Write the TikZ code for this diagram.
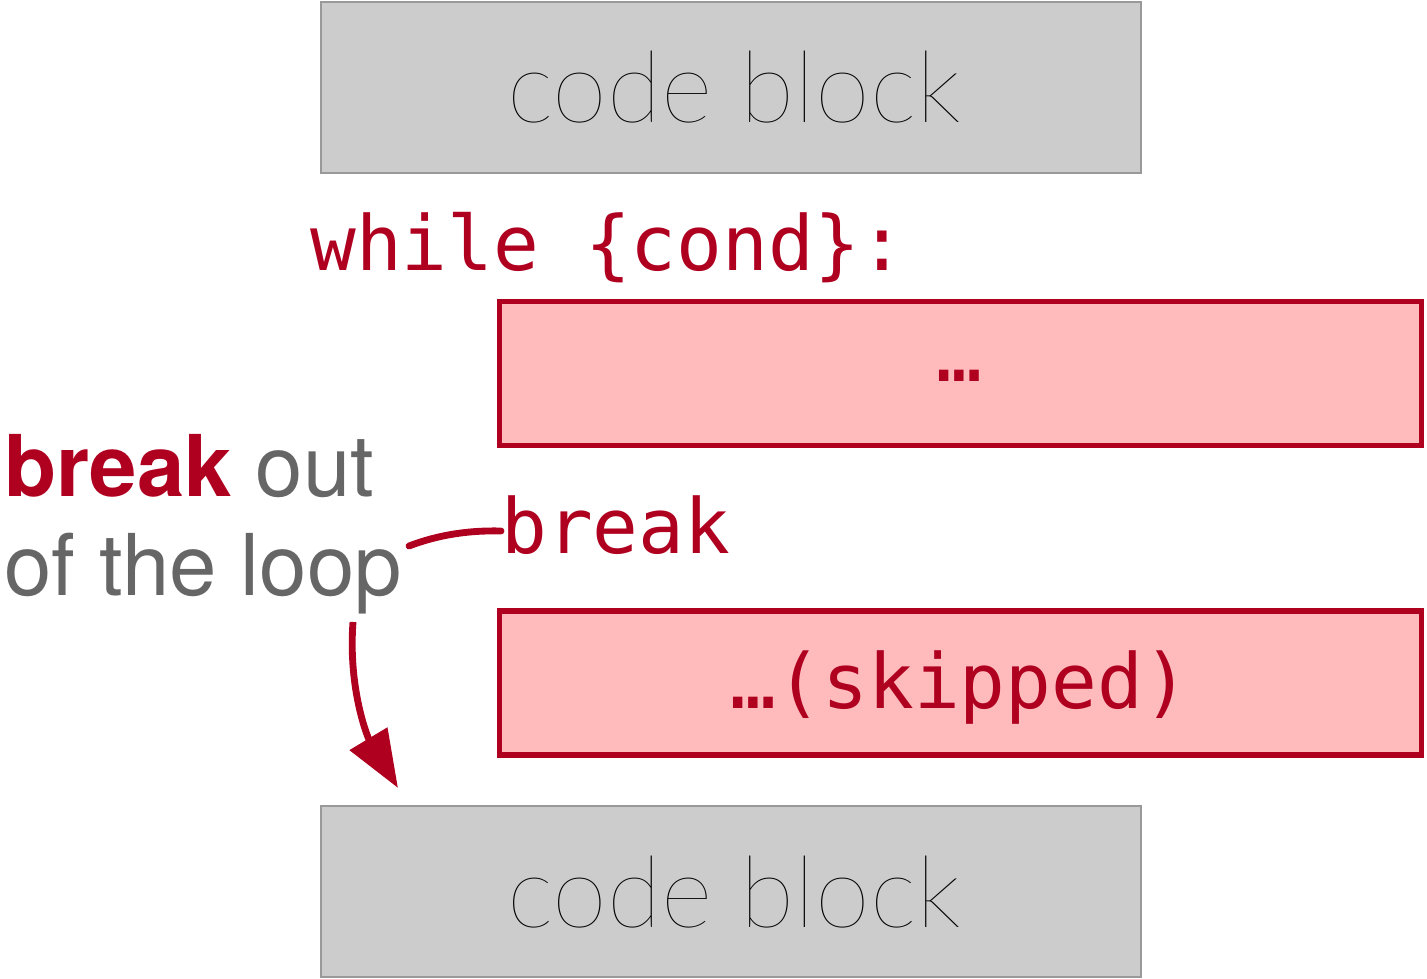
\documentclass[tikz,border=0pt]{standalone}
\usepackage{fontspec}
\setmainfont{TeX Gyre Heros}
\newfontfamily\monofont{DejaVu Sans Mono}
\newfontfamily\thinfont{Lato Hairline}
\usetikzlibrary{arrows.meta}
\definecolor{bred}{RGB}{176,0,32}
\definecolor{pinkfill}{RGB}{255,187,188}
\definecolor{grayfill}{RGB}{204,204,204}
\definecolor{grayline}{RGB}{153,153,153}
\definecolor{graytext}{RGB}{102,102,102}
\tikzset{
  graybox/.style={draw=grayline, line width=0.85pt, fill=grayfill, minimum width=16.4cm, minimum height=3.42cm, inner sep=0pt},
  redbox/.style={draw=bred, line width=3.1pt, fill=pinkfill, minimum width=18.44cm, minimum height=2.88cm, inner sep=0pt},
  cbtext/.style={inner sep=0pt, font=\thinfont\fontsize{56.5}{62}\selectfont, text=black},
  codetext/.style={inner sep=0pt, font=\monofont\fontsize{43.3}{50}\selectfont, text=bred},
  lbltext/.style={inner sep=0pt, font=\fontsize{48.5}{56}\selectfont, text=graytext},
  conn/.style={draw=bred, line width=3.9pt, line cap=round},
}
\begin{document}
\begin{tikzpicture}[x=0.02cm, y=-0.02cm]
\useasboundingbox (0,0) rectangle (1427,979);
% gray code blocks
\node[graybox] (top) at (731,87.5) {};
\node[cbtext, anchor=base] (toplbl) at (734,123) {code block};
\node[graybox] (bot) at (731,891.5) {};
\node[cbtext, anchor=base] (botlbl) at (734,927) {code block};
% while header
\node[codetext, anchor=base west] (while) at (310,271) {while {\char`\{}cond{\char`\}}:};
% red boxes
\node[redbox] (body1) at (960.5,373.5) {};
\node[codetext, anchor=base] (dots) at (959,382) {…};
\node[redbox] (body2) at (960.5,683) {};
\node[codetext, anchor=base] (skip) at (960,708) {…(skipped)};
% break statement
\node[codetext, anchor=base west] (brk) at (501,554) {break};
% labels
\node[lbltext, anchor=base west] (lbl1) at (4,497) {\textcolor{bred}{\bfseries break} out};
\node[lbltext, anchor=base west] (lbl2) at (4,596) {of the loop};
% connectors
\coordinate (c1) at (409,546);
\coordinate (a0) at (353,622);
\coordinate (a1) at (398,788);
\draw[conn] (brk.west |- 0,531) .. controls (460,530) and (430,538) .. (c1);
\draw[conn, line cap=butt, -{Triangle[length=1.15cm, width=0.85cm]}] (a0) .. controls (348,690) and (368,738) .. (a1);
\end{tikzpicture}
\end{document}
